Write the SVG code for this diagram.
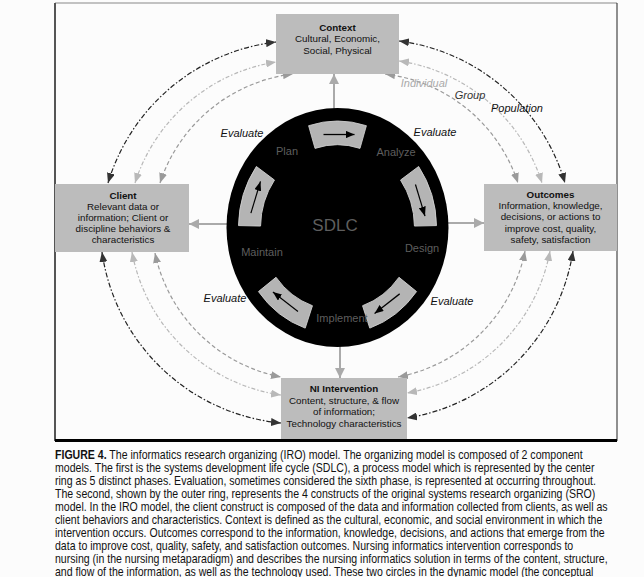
<svg xmlns="http://www.w3.org/2000/svg" xmlns:xlink="http://www.w3.org/1999/xlink" width="644" height="577" viewBox="0 0 644 577">
<defs>
<style>
text{font-family:"Liberation Sans",Arial,sans-serif;}
.box{fill:#bcbcbc;}
.bt{font-size:9.8px;fill:#111;text-anchor:middle;}
.bb{font-weight:bold;}
.ph{font-size:11px;fill:#5e5e5e;text-anchor:middle;}
.ev{font-size:11px;font-style:italic;fill:#111;text-anchor:middle;}
.cap{font-size:12px;fill:#111;}
.hub{stroke:#aaaaaa;stroke-width:2;fill:none;marker-end:url(#mh);}
.ao{fill:none;stroke:#222;stroke-width:1.2;stroke-dasharray:5 2 1.5 2;marker-start:url(#mk);marker-end:url(#mk);}
.am{fill:none;stroke:#b8b8b8;stroke-width:1.2;stroke-dasharray:4 2 1.5 2;marker-start:url(#ml);marker-end:url(#ml);}
.ai{fill:none;stroke:#9a9a9a;stroke-width:1.2;stroke-dasharray:4 2.5;marker-start:url(#mg);marker-end:url(#mg);}
.seg{fill:#b4b4b4;stroke:#d0d0d0;stroke-width:0.8;}
.sa{stroke:#000;stroke-width:1.2;marker-end:url(#ms);}
</style>
<marker id="mh" viewBox="0 0 10 10" refX="10" refY="5" markerWidth="11" markerHeight="10" markerUnits="userSpaceOnUse" orient="auto"><path d="M0,0 L10,5 L0,10 Z" fill="#aaaaaa"/></marker>
<marker id="mk" viewBox="0 0 10 8" refX="10" refY="4" markerWidth="10" markerHeight="8" markerUnits="userSpaceOnUse" orient="auto-start-reverse"><path d="M0,0 L10,4 L0,8 Z" fill="#333"/></marker>
<marker id="ml" viewBox="0 0 10 8" refX="10" refY="4" markerWidth="10" markerHeight="8" markerUnits="userSpaceOnUse" orient="auto-start-reverse"><path d="M0,0 L10,4 L0,8 Z" fill="#b8b8b8"/></marker>
<marker id="mg" viewBox="0 0 10 8" refX="10" refY="4" markerWidth="10" markerHeight="8" markerUnits="userSpaceOnUse" orient="auto-start-reverse"><path d="M0,0 L10,4 L0,8 Z" fill="#9a9a9a"/></marker>
<marker id="ms" viewBox="0 0 10 8" refX="10" refY="4" markerWidth="9" markerHeight="7" markerUnits="userSpaceOnUse" orient="auto"><path d="M0,0 L10,4 L0,8 Z" fill="#000"/></marker>
</defs>
<rect width="644" height="577" fill="#fcfcfc"/>
<g id="frame">
<line x1="55" y1="3" x2="617" y2="3" stroke="#888" stroke-width="1"/>
<line x1="55" y1="3" x2="55" y2="441" stroke="#555" stroke-width="2"/>
<line x1="617" y1="3" x2="617" y2="441" stroke="#222" stroke-width="1"/>
<rect x="55" y="439" width="562" height="3" fill="#000"/>
</g>
<g id="connectors">
<line class="hub" x1="334" y1="112" x2="334" y2="74"/>
<line class="hub" x1="230" y1="224" x2="189" y2="224"/>
<line class="hub" x1="445" y1="223" x2="484" y2="223"/>
<line class="hub" x1="340" y1="343" x2="340" y2="378"/>
<path class="ao" d="M108,183 A200,200 0 0 1 276,42"/>
<path class="am" d="M135,183 A177,177 0 0 1 276,62"/>
<path class="ai" d="M160,183 A160,160 0 0 1 293,74"/>
<path class="ao" d="M399,41 A200,200 0 0 1 565,183"/>
<path class="am" d="M399,61 A177,177 0 0 1 542,183"/>
<path class="ai" d="M385,74 A160,160 0 0 1 518,183"/>
<path class="ao" d="M102,252 A200,200 0 0 0 281,423"/>
<path class="am" d="M132,252 A177,177 0 0 0 281,395"/>
<path class="ai" d="M155,253 A160,160 0 0 0 281,377"/>
<path class="ao" d="M573,251 A200,200 0 0 1 407,418"/>
<path class="am" d="M550,251 A177,177 0 0 1 407,393"/>
<path class="ai" d="M525,251 A160,160 0 0 1 398,377"/>
</g>
<g id="context">
<rect class="box" x="276" y="14" width="123" height="60"/>
<text class="bt bb" x="337.5" y="30.5">Context</text>
<text class="bt" x="337.5" y="42">Cultural, Economic,</text>
<text class="bt" x="337.5" y="53.5">Social, Physical</text>
</g>
<g id="client">
<rect class="box" x="55" y="184" width="134" height="68"/>
<text class="bt bb" x="123" y="198.5">Client</text>
<text class="bt" x="123" y="209.5">Relevant data or</text>
<text class="bt" x="123" y="220.5">information; Client or</text>
<text class="bt" x="123" y="231.5">discipline behaviors &amp;</text>
<text class="bt" x="123" y="242.5">characteristics</text>
</g>
<g id="outcomes">
<rect class="box" x="484" y="184" width="133" height="67"/>
<text class="bt bb" x="550.5" y="197.5">Outcomes</text>
<text class="bt" x="550.5" y="208.5">Information, knowledge,</text>
<text class="bt" x="550.5" y="220">decisions, or actions to</text>
<text class="bt" x="550.5" y="231.5">improve cost, quality,</text>
<text class="bt" x="550.5" y="242.5">safety, satisfaction</text>
</g>
<g id="ni-intervention">
<rect class="box" x="281" y="378" width="126" height="61"/>
<text class="bt bb" x="344" y="391.5">NI Intervention</text>
<text class="bt" x="344" y="403.5">Content, structure, &amp; flow</text>
<text class="bt" x="344" y="415">of information;</text>
<text class="bt" x="344" y="426.5">Technology characteristics</text>
</g>
<g id="sdlc">
<ellipse cx="337.5" cy="227.5" rx="111" ry="119.5" fill="#000"/>
<g transform="translate(337.5,227.5) scale(1,1.075)">
<g id="seg">
<path class="seg" d="M-28.9,-94.7 A99,99 0 0 1 28.9,-94.7 L22.5,-73.6 A77,77 0 0 0 -22.5,-73.6 Z"/>
<line class="sa" x1="-14" y1="-86.5" x2="17" y2="-86.5"/>
</g>
<use xlink:href="#seg" href="#seg" transform="rotate(72)"/>
<use xlink:href="#seg" href="#seg" transform="rotate(144)"/>
<use xlink:href="#seg" href="#seg" transform="rotate(216)"/>
<use xlink:href="#seg" href="#seg" transform="rotate(288)"/>
</g>
<text class="ph" x="287" y="155">Plan</text>
<text class="ph" x="396" y="156">Analyze</text>
<text class="ph" x="422" y="252">Design</text>
<text class="ph" x="342" y="322">Implement</text>
<text class="ph" x="262" y="256">Maintain</text>
<text class="ph" x="335" y="231" style="font-size:17px">SDLC</text>
</g>
<g id="labels">
<text class="ev" x="242" y="137">Evaluate</text>
<text class="ev" x="435" y="136">Evaluate</text>
<text class="ev" x="225" y="302">Evaluate</text>
<text class="ev" x="452" y="305">Evaluate</text>
<text class="ev" x="424" y="87" style="fill:#aaa">Individual</text>
<text class="ev" x="470" y="99" style="fill:#333">Group</text>
<text class="ev" x="517" y="112">Population</text>
</g>
<g id="caption" transform="translate(55,0) scale(0.88,1)">
<text class="cap" x="0" y="459"><tspan font-weight="bold">FIGURE 4.</tspan> The informatics research organizing (IRO) model. The organizing model is composed of 2 component</text>
<text class="cap" x="0" y="472">models. The first is the systems development life cycle (SDLC), a process model which is represented by the center</text>
<text class="cap" x="0" y="485">ring as 5 distinct phases. Evaluation, sometimes considered the sixth phase, is represented at occurring throughout.</text>
<text class="cap" x="0" y="498">The second, shown by the outer ring, represents the 4 constructs of the original systems research organizing (SRO)</text>
<text class="cap" x="0" y="511">model. In the IRO model, the client construct is composed of the data and information collected from clients, as well as</text>
<text class="cap" x="0" y="524">client behaviors and characteristics. Context is defined as the cultural, economic, and social environment in which the</text>
<text class="cap" x="0" y="537">intervention occurs. Outcomes correspond to the information, knowledge, decisions, and actions that emerge from the</text>
<text class="cap" x="0" y="550">data to improve cost, quality, safety, and satisfaction outcomes. Nursing informatics intervention corresponds to</text>
<text class="cap" x="0" y="563">nursing (in the nursing metaparadigm) and describes the nursing informatics solution in terms of the content, structure,</text>
<text class="cap" x="0" y="576">and flow of the information, as well as the technology used. These two circles in the dynamic model (the conceptual</text>
</g>
</svg>
